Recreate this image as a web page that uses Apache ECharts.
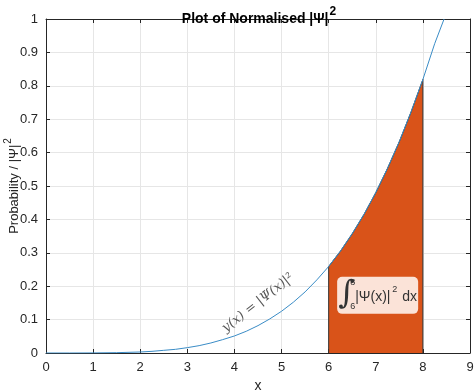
<!DOCTYPE html>
<html lang="en">
<head>
    <meta charset="UTF-8" />
    <title>Normalised Psi squared</title>
    <script src="https://cdn.jsdelivr.net/npm/echarts@6/dist/echarts.min.js"></script>
    <style>
        html, body { margin: 0; padding: 0; background: #fff; }
    </style>
</head>
<body>
    <div id="chart" style="width: 474px; height: 391px"></div>
    <script>
        // values
        var curveX = [0, 0.5, 1, 1.5, 2, 2.25, 2.5, 2.75, 3, 3.25, 3.5, 3.75, 4, 4.25, 4.5, 4.75, 5, 5.25, 5.5, 5.75,
                      6, 6.25, 6.5, 6.75, 7, 7.25, 7.5, 7.75, 8, 8.25, 8.45];
        var curveY = [0, 0, 0.0002, 0.001, 0.003, 0.005, 0.008, 0.011, 0.016, 0.022, 0.03, 0.04, 0.051, 0.065, 0.082, 0.102,
                      0.125, 0.152, 0.183, 0.219, 0.259, 0.305, 0.357, 0.415, 0.48, 0.553, 0.633, 0.722, 0.819, 0.926, 1.0];
        var fillFrom = 6;
        var fillTo = 8;
        var xTicks = [0, 1, 2, 3, 4, 5, 6, 7, 8, 9];
        var yTicks = [0, 0.1, 0.2, 0.3, 0.4, 0.5, 0.6, 0.7, 0.8, 0.9, 1];

        var curveData = curveX.map(function (x, i) { return [x, curveY[i]]; });

        // shaded part: the curve between 6 and 8, closed down to y=0
        var areaData = [[fillFrom, 0]];
        curveData.forEach(function (p) {
            if (p[0] >= fillFrom && p[0] <= fillTo) areaData.push(p);
        });
        areaData.push([fillTo, 0]);

        var font = "Helvetica, 'Liberation Sans', Arial, sans-serif";
        var ink = "#262626";

        var chart = echarts.init(document.getElementById("chart"));

        var baseX = {
            type: "value",
            min: xTicks[0],
            max: xTicks[xTicks.length - 1],
            interval: 1,
            axisLine: { show: true, onZero: false, lineStyle: { color: ink, width: 1 } },
            axisTick: { show: true, inside: true, length: 4, lineStyle: { color: ink } },
            splitLine: { show: false }
        };
        var baseY = {
            type: "value",
            min: yTicks[0],
            max: yTicks[yTicks.length - 1],
            interval: 0.1,
            axisLine: { show: true, onZero: false, lineStyle: { color: ink, width: 1 } },
            axisTick: { show: true, inside: true, length: 4, lineStyle: { color: ink } },
            splitLine: { show: false }
        };

        var option = {
            animation: false,
            title: {
                text: "{a|Plot of Normalised |Ψ|}{b|2}",
                left: 254,
                textAlign: "center",
                top: 1,
                textStyle: {
                    rich: {
                        a: { fontFamily: font, fontWeight: "bold", fontSize: 14, color: "#000", verticalAlign: "bottom" },
                        b: { fontFamily: font, fontWeight: "bold", fontSize: 12, color: "#000", verticalAlign: "top", padding: [0, 0, 8, 1] }
                    }
                }
            },
            grid: { left: 46, right: 4, top: 19, bottom: 38, outerBoundsMode: "none", containLabel: false },
            xAxis: [
                Object.assign({}, baseX, {
                    position: "bottom",
                    name: "x",
                    nameLocation: "middle",
                    nameGap: 25,
                    nameTextStyle: { fontFamily: font, fontSize: 14, color: ink },
                    axisLabel: { fontFamily: font, fontSize: 13, color: ink, margin: 8 },
                    splitLine: { show: true, lineStyle: { color: "#e6e6e6", width: 1 } }
                }),
                Object.assign({}, baseX, { position: "top", axisLabel: { show: false } })
            ],
            yAxis: [
                Object.assign({}, baseY, {
                    position: "left",
                    axisLabel: {
                        fontFamily: font, fontSize: 13, color: ink, margin: 8,
                        formatter: function (v) { return String(Math.round(v * 10) / 10); }
                    },
                    splitLine: { show: true, lineStyle: { color: "#e6e6e6", width: 1 } }
                }),
                Object.assign({}, baseY, { position: "right", axisLabel: { show: false } })
            ],
            series: [
                {
                    type: "line",
                    name: "area",
                    data: areaData,
                    symbol: "none",
                    z: 2,
                    lineStyle: { color: "#333", width: 1 },
                    areaStyle: { color: "#D95319", opacity: 1 }
                },
                {
                    type: "line",
                    name: "curve",
                    data: curveData,
                    symbol: "none",
                    clip: true,
                    z: 3,
                    lineStyle: { color: "#3a8cc6", width: 1 }
                }
            ]
        };

        chart.setOption(option);

        // annotations placed from data coordinates
        var boxTL = chart.convertToPixel({ gridIndex: 0 }, [6.18, 0.228]);
        var labelC = chart.convertToPixel({ gridIndex: 0 }, [4.5, 0.15]);
        var midY = chart.convertToPixel({ yAxisIndex: 0 }, 0.5);
        var mathFont = "'DejaVu Serif', 'Liberation Serif', serif";
        var sansFont = "'Liberation Sans', Arial, sans-serif";
        var bx = boxTL[0], by = boxTL[1];

        function boxText(dx, dy, str, f) {
            return {
                type: "text", x: bx + dx, y: by + dy, z: 21,
                style: { text: str, font: f, fill: "#333", verticalAlign: "middle" }
            };
        }

        chart.setOption({
            graphic: [
                // y axis title
                {
                    type: "text",
                    x: 12,
                    y: midY,
                    rotation: Math.PI / 2,
                    z: 20,
                    style: {
                        text: "{a|Probability / |Ψ|}{b|2}",
                        align: "center",
                        verticalAlign: "middle",
                        rich: {
                            a: { fontFamily: font, fontSize: 13, fill: ink, verticalAlign: "bottom" },
                            b: { fontFamily: font, fontSize: 10, fill: ink, verticalAlign: "top", padding: [0, 0, 7, 1] }
                        }
                    }
                },
                { type: "rect", z: 20, shape: { x: bx, y: by, width: 81, height: 37, r: 5 }, style: { fill: "#fbe3d8" } },
                boxText(1, 18, "∫", "italic 32px " + mathFont),
                boxText(13, 6, "8", "9px " + sansFont),
                boxText(13, 30, "6", "9px " + sansFont),
                boxText(18, 20, "|Ψ(x)|", "14px " + sansFont),
                boxText(55, 13, "2", "9px " + sansFont),
                boxText(65, 20, "dx", "14px " + sansFont),
                {
                    type: "text",
                    x: labelC[0],
                    y: labelC[1],
                    rotation: 38 * Math.PI / 180,
                    z: 20,
                    style: {
                        text: "y(x) = |Ψ(x)|²",
                        font: "italic 13px " + mathFont,
                        fill: "#555",
                        align: "center",
                        verticalAlign: "middle"
                    }
                }
            ]
        });
    </script>
</body>
</html>
